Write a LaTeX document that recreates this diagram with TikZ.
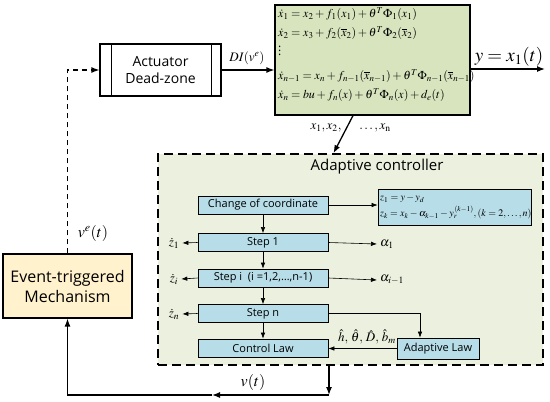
\documentclass[tikz,border=0pt]{standalone}
\usepackage{mathptmx}
\usepackage[no-math]{fontspec}
\setmainfont{Open Sans}
\usetikzlibrary{arrows.meta}
\definecolor{stepblue}{HTML}{B7DDE8}
\definecolor{sysgreen}{HTML}{D7E4BD}
\definecolor{ctrlgreen}{HTML}{EBF1DE}
\definecolor{eventyellow}{HTML}{FFF2CC}

\begin{document}
\begin{tikzpicture}[x=1pt,y=-1pt,inner sep=0.7mm,
    blk/.style={draw=black, line width=0.8pt, fill=stepblue, minimum width=130pt, minimum height=18pt, font=\fontsize{11}{13}\selectfont},
    sig/.style={draw=black, line width=0.6pt, -{Latex[length=6pt,width=4.5pt]}},
    bigsig/.style={draw=black, line width=1.3pt, -{Latex[length=8pt,width=6pt]}},
    lbl/.style={inner sep=0pt, font=\fontsize{13}{15}\selectfont}]
    \useasboundingbox (0,0) rectangle (550,402);

    % plant and actuator
    \node[draw=black, line width=1.2pt, fill=white, minimum width=121pt, minimum height=52pt, align=center,
          font=\fontsize{14}{17}\selectfont] (act) at (160.5,70) {Actuator\\Dead-zone};
    \draw [line width=1.2pt] ([xshift=12pt]act.north west) -- ([xshift=12pt]act.south west);
    \draw [line width=1.2pt] ([xshift=-10pt]act.north east) -- ([xshift=-10pt]act.south east);
    \node[draw=black, line width=1.2pt, fill=sysgreen, minimum width=195pt, minimum height=110pt] (sys) at (372.5,60) {};
    \node[anchor=north west, align=left, inner sep=0pt, font=\fontsize{12}{19}\selectfont] (eqs) at (278,7) {%
        $\dot x_1 = x_2 + f_1(x_1) + \theta^T\Phi_1(x_1)$\\
        $\dot x_2 = x_3 + f_2(\overline{x}_2) + \theta^T\Phi_2(\overline{x}_2)$\\
        $\vdots$\\[5pt]
        $\dot x_{n-1} = x_n + f_{n-1}(\overline{x}_{n-1}) + \theta^T\Phi_{n-1}(\overline{x}_{n-1})$\\
        $\dot x_n = bu + f_n(x) + \theta^T\Phi_n(x) + d_e(t)$};
    \coordinate (yout) at (545,69);
    \draw [bigsig] (act.east) -- (act.east -| sys.west);
    \draw [bigsig] (sys.east |- yout) -- (yout);
    \node[lbl] (dilbl) at (247,58) {$DI(v^e)$};
    \node[lbl, font=\fontsize{19}{22}\selectfont] (ylbl) at (509,57) {$y = x_1(t)$};

    % adaptive controller
    \node[draw=black, line width=1.6pt, dash pattern=on 9pt off 5pt, fill=ctrlgreen,
          minimum width=385pt, minimum height=211pt] (ctrl) at (350.5,259.5) {};
    \draw [bigsig] ([xshift=-19.5pt]sys.south) -- ([xshift=-17pt]ctrl.north);
    \node[lbl] (xlbla) at (326,128) {$x_1, x_2,$};
    \node[lbl] (xlblb) at (375,128) {$\ldots, x_{\mathrm{n}}$};
    \node[lbl, font=\fontsize{15}{18}\selectfont] (ctitle) at (377,167) {Adaptive controller};

    \node[blk] (coord) at (263,205) {Change of coordinate};
    \node[blk] (step1) at (263,242.5) {Step 1};
    \node[blk] (stepi) at (263,278) {Step i\ \ (i =1,2,\ldots,n-1)};
    \node[blk] (stepn) at (263,313.5) {Step n};
    \node[blk] (law) at (263,348) {Control Law};
    \node[blk, minimum width=82pt, minimum height=21pt] (adapt) at (438,348.5) {Adaptive Law};
    \node[draw=black, line width=0.8pt, fill=stepblue, minimum width=153pt, minimum height=36pt] (zbox) at (454.5,207) {};
    \node[anchor=west, align=left, inner sep=0pt, font=\fontsize{10}{16}\selectfont] (zeqs) at (380,207) {%
        $z_1 = y - y_d$\\
        $z_k = x_k - \alpha_{k-1} - y_r^{\,(k-1)}, (k=2,\ldots,n)$};

    \draw [sig] (coord) -- (zbox.west |- coord);
    \draw [sig] (coord) -- (step1);
    \draw [sig] (step1) -- (stepi);
    \draw [sig] (stepi) -- (stepn);
    \draw [sig] (stepn) -- (law);

    \node[lbl] (dz1) at (174,243) {$\dot z_1$};
    \node[lbl] (dzi) at (174,279) {$\dot z_i$};
    \node[lbl] (dzn) at (174,314) {$\dot z_n$};
    \draw [sig] (step1.west) -- ([xshift=3pt]dz1.east);
    \draw [sig] (stepi.west) -- ([xshift=3pt]dzi.east);
    \draw [sig] (stepn.west) -- ([xshift=3pt]dzn.east);

    \node[lbl, anchor=west] (al1) at (380,244) {$\alpha_1$};
    \node[lbl, anchor=west] (ali) at (380,280) {$\alpha_{i-1}$};
    \draw [sig] (step1.east) -- ([xshift=-3pt]al1.west);
    \draw [sig] (stepi.east) -- ([xshift=-3pt]ali.west);

    \draw [sig] (stepn.east) -| ([xshift=-18pt]adapt.north);
    \draw [sig] (adapt.west) -- (law.east |- adapt.west);
    \node[lbl] (hatlbl) at (367,337) {$\hat h,\,\hat\theta,\,\hat D,\,\hat b_m$};

    % event-triggered feedback
    \node[draw=black, line width=1.2pt, fill=eventyellow, minimum width=129pt, minimum height=64pt, align=center,
          font=\fontsize{16}{20}\selectfont] (event) at (67.5,286) {Event-triggered\\Mechanism};
    \coordinate (vt) at (329,395);
    \coordinate (vmid) at (212,395);
    \draw [bigsig] ([xshift=-21.5pt]ctrl.south) -- (vt);
    \draw [bigsig] (vt) -- (vmid);
    \draw [bigsig] (vmid) -| (event.south);
    \node[lbl, font=\fontsize{16}{19}\selectfont] (vlbl) at (253,382) {$v(t)$};
    \draw [bigsig, dash pattern=on 5pt off 4pt] (event.north) |- (act.west);
    \node[lbl, font=\fontsize{16}{19}\selectfont] (velbl) at (93,233) {$v^e(t)$};

\end{tikzpicture}
\end{document}
